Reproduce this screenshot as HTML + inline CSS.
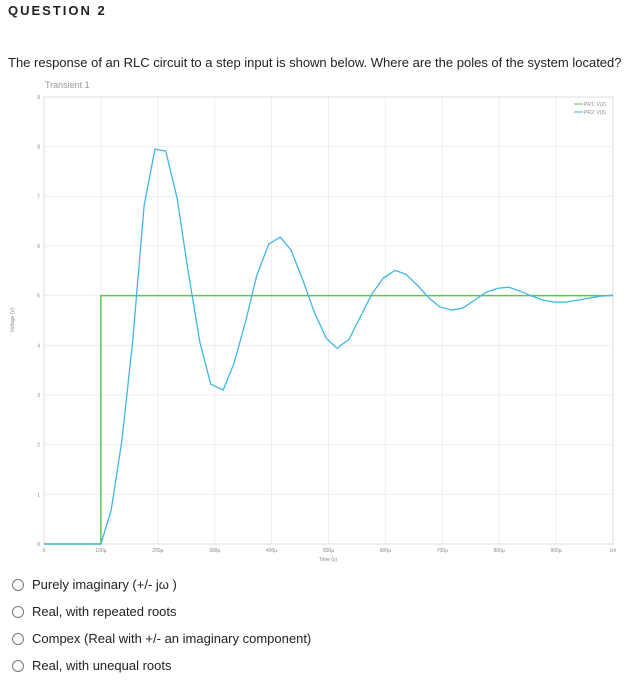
<!DOCTYPE html>
<html><head><meta charset="utf-8"><style>
body{margin:0;width:629px;height:697px;background:#fff;font-family:"Liberation Sans",sans-serif;position:relative;overflow:hidden}
.t{position:absolute;white-space:nowrap}
.opt{position:absolute;left:12px;font-size:13px;color:#222;display:flex;align-items:center}
.opt span.r{width:12px;height:12px;border:1px solid #777;border-radius:50%;margin-right:8px;box-sizing:border-box}
</style></head><body>
<div class="t" style="left:8px;top:3px;font-weight:bold;font-size:13px;letter-spacing:2px;color:#222">QUESTION 2</div>
<div class="t" style="left:8px;top:55px;font-size:13px;color:#222">The response of an RLC circuit to a step input is shown below. Where are the poles of the system located?</div>
<svg width="629" height="580" style="position:absolute;left:0;top:0" id="chart"></svg>
<div class="opt" style="top:577px"><span class="r"></span>Purely imaginary (+/- jω )</div>
<div class="opt" style="top:604px"><span class="r"></span>Real, with repeated roots</div>
<div class="opt" style="top:631px"><span class="r"></span>Compex  (Real with +/- an imaginary component)</div>
<div class="opt" style="top:658px"><span class="r"></span>Real, with unequal roots</div>
<script>
const times=[0,100,118,137,156,176,195,214,234,253,274,293,315,334,355,374,395,415,434,455,475,496,515,536,555,576,596,617,636,656,677,696,717,736,757,777,798,817,837,858,877,898,917,938,958,979,1000];
const outV=[0,0,0.68,2.09,4.1,6.82,7.95,7.91,6.96,5.51,4.06,3.22,3.10,3.64,4.51,5.41,6.04,6.18,5.92,5.31,4.67,4.14,3.94,4.12,4.55,5.03,5.35,5.51,5.43,5.21,4.95,4.77,4.71,4.75,4.91,5.07,5.15,5.17,5.09,4.99,4.91,4.87,4.87,4.91,4.95,4.99,5.01];
const stepT=[0,100,100,1000];
const stepV=[0,0,5,5];
const yTicks=[0,1,2,3,4,5,6,7,8,9];
const xTicks=[0,100,200,300,400,500,600,700,800,900,1000];
const xLabels=["0","100µ","200µ","300µ","400µ","500µ","600µ","700µ","800µ","900µ","1m"];
const X0=44,X1=613,Y0=544,Y9=97;
const sx=t=>X0+(X1-X0)*t/1000, sy=v=>Y0-(Y0-Y9)*v/9;
const svg=document.getElementById('chart');const NS='http://www.w3.org/2000/svg';
function mk(tag,a,txt){const e=document.createElementNS(NS,tag);for(const k in a)e.setAttribute(k,a[k]);if(txt!=null)e.textContent=txt;svg.appendChild(e);return e;}
let e=mk('text',{x:45,y:88,'font-size':9,fill:'#999','font-family':'Liberation Sans'},'Transient 1');


yTicks.forEach(v=>{let g=mk('line',{x1:X0,x2:X1,y1:sy(v),y2:sy(v),stroke:'#eee'});


let l=mk('text',{x:40,y:sy(v)+2,'font-size':5,fill:'#888','text-anchor':'end','font-family':'Liberation Sans'},v);

});
xTicks.forEach((t,i)=>{let g=mk('line',{x1:sx(t),x2:sx(t),y1:Y9,y2:Y0,stroke:'#eee'});


let l=mk('text',{x:sx(t),y:552,'font-size':5,fill:'#888','text-anchor':'middle','font-family':'Liberation Sans'},xLabels[i]);

});
e=mk('rect',{x:X0,y:Y9,width:X1-X0,height:Y0-Y9,fill:'none',stroke:'#ddd'});


e=mk('text',{x:328,y:561,'font-size':5,fill:'#888','text-anchor':'middle','font-family':'Liberation Sans'},'Time (s)');


e=mk('text',{x:14,y:320,'font-size':5,fill:'#888','text-anchor':'middle','font-family':'Liberation Sans',transform:'rotate(-90 14 320)'},'Voltage (V)');


e=mk('polyline',{points:stepT.map((t,i)=>sx(t)+','+sy(stepV[i])).join(' '),fill:'none',stroke:'#5ac84e','stroke-width':1.5});


e=mk('polyline',{points:times.map((t,i)=>sx(t)+','+sy(outV[i])).join(' '),fill:'none',stroke:'#3fb6e6','stroke-width':1.3});


[['PR1: V(2)','#5ac84e',106],['PR2: V(3)','#3fb6e6',114]].forEach(d=>{
let l=mk('line',{x1:574,x2:583,y1:d[2]-2,y2:d[2]-2,stroke:d[1]});


let t=mk('text',{x:584,y:d[2],'font-size':5,fill:'#888','font-family':'Liberation Sans'},d[0]);

});
</script>
</body></html>
